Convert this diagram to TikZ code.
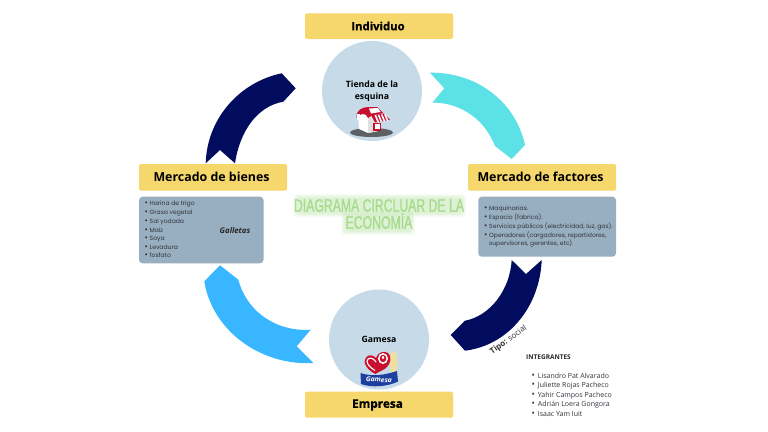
\documentclass[tikz,border=0pt]{standalone}
\usepackage{fontspec}
\setmainfont{Open Sans}
\newfontfamily\heavyf[FakeBold=0.6]{Open Sans Bold}
\newfontfamily\popf{Poppins}
\newfontfamily\titlef[FakeStretch=0.68,FakeBold=0.9]{Liberation Sans}
\definecolor{navyarrow}{HTML}{020C5E}
\definecolor{cyanarrow}{HTML}{5CE1E6}
\definecolor{bluearrow}{HTML}{38B6FF}
\definecolor{yellowbox}{HTML}{F5D76C}
\definecolor{greybox}{HTML}{98AFC1}
\definecolor{circlefill}{HTML}{C6DAE8}
\definecolor{glow}{HTML}{9ADC7A}
\definecolor{titlegreen}{HTML}{A9DB8E}
\definecolor{listtext}{HTML}{2F343C}
\definecolor{storered}{HTML}{C8102E}
\definecolor{wheat}{HTML}{EFDF9C}
\definecolor{logoblue}{HTML}{1C3FA0}
\tikzset{
  x=1pt,y=-1pt,
  head/.style={font=\bfseries\fontsize{12.4}{12.4}\selectfont,text=black,inner sep=0},
  small head/.style={font=\bfseries\fontsize{8.7}{12}\selectfont,text=black,inner sep=0,align=center},
  listitem/.style={anchor=base west,font=\popf\fontsize{6.05}{6}\selectfont,text=listtext,inner sep=0},
  nameitem/.style={anchor=base west,font=\fontsize{7}{7}\selectfont,text=listtext,inner sep=0},
  yellow box/.style={fill=yellowbox,rounded corners=2pt},
  grey box/.style={fill=greybox,rounded corners=3.5pt},
  disc/.style={fill=circlefill},
}
\newcommand{\bl}{\makebox[5pt][l]{\fontsize{8}{6}\selectfont •}}
\newcommand{\nb}{\makebox[6.2pt][l]{\fontsize{9}{7}\selectfont •}}
\begin{document}
\begin{tikzpicture}
\useasboundingbox (0,0) rectangle (768,431);
\fill[white] (0,0) rectangle (768,431);
% arrows
\fill[navyarrow] (281.7,73.3) .. controls (240,82) and (207,118) .. (205.7,163.3) -- (220,150) -- (235,163.3) .. controls (240,130) and (258,106) .. (283.3,101.7) -- (295.7,88.3) -- cycle;
\fill[cyanarrow] (430,72.7) -- (444.3,88.3) -- (432.3,102.7) .. controls (455,102) and (483,115) .. (495,146) -- (511.7,159) -- (525,145) .. controls (515,100) and (475,72) .. (430,72.7) -- cycle;
\fill[bluearrow] (220,265.3) -- (238.3,279.7) .. controls (248,315) and (280,332) .. (310.7,329.7) -- (296.7,346.3) -- (313.3,363) .. controls (260,366) and (212,330) .. (204.3,281.3) -- cycle;
\fill[navyarrow] (511.7,260) -- (526,274) -- (541.7,260) .. controls (540,305) and (510,345) .. (465,350.7) -- (450.7,335) -- (465,320.7) .. controls (490,316) and (510,290) .. (511.7,260) -- cycle;
% circles
\fill[disc] (372,91) circle (50);
\fill[disc] (379,339.5) circle (50);
% boxes
\fill[yellow box] (305,13.3) rectangle (453,39);
\fill[yellow box] (305,391.7) rectangle (453,417.7);
\fill[yellow box] (139,164) rectangle (287,190.7);
\fill[yellow box] (468,164) rectangle (616,190.7);
\fill[grey box] (139,196.7) rectangle (263.5,263.3);
\fill[grey box] (478.3,196.7) rectangle (616,256.7);
\node[head,font=\heavyf\fontsize{11.3}{11}\selectfont] (individuo) at (378,26) {Individuo};
\node[head,font=\heavyf\fontsize{11.8}{12}\selectfont] (empresa) at (377.5,405) {Empresa};
\node[head] (bienes) at (211.5,176.5) {Mercado de bienes};
\node[head] (factores) at (540.5,176.5) {Mercado de factores};
\node[small head] (tienda) at (372,91.5) {Tienda de la\\esquina};
\node[small head] (gamesa) at (379,339.5) {Gamesa};
% title glow
\foreach \g in {5,4,3,2,1}{
  \fill[glow,opacity=0.07,rounded corners=4pt] (298-\g,199-\g) rectangle (461+\g,212+\g);
  \fill[glow,opacity=0.07,rounded corners=4pt] (346-\g,217-\g) rectangle (410+\g,230+\g);
}
\node[inner sep=0,align=center,text=titlegreen,font=\titlef\fontsize{18}{17}\selectfont] (title) at (379,214) {DIAGRAMA CIRCLUAR DE LA\\ECONOMÍA};
% left list
\node[listitem] (l1) at (144.5,205.7) {\bl Harina de trigo};
\node[listitem] (l2) at (144.5,214.6) {\bl Grasa vegetal};
\node[listitem] (l3) at (144.5,223) {\bl Sal yodada};
\node[listitem] (l4) at (144.5,232) {\bl Maíz};
\node[listitem] (l5) at (144.5,240) {\bl Soya};
\node[listitem] (l6) at (144.5,249) {\bl Levadura};
\node[listitem] (l7) at (144.5,257) {\bl fosfato};
\node[font=\bfseries\itshape\fontsize{7.8}{7.8}\selectfont,text=black!85,inner sep=0] (galletas) at (235,231) {Galletas};
% right list
\node[listitem] (r1) at (484,210.7) {\bl Maquinarias.};
\node[listitem] (r2) at (484,219.7) {\bl Espacio (fabrica).};
\node[listitem] (r3) at (484,228) {\bl Servicios públicos (electricidad, luz, gas).};
\node[listitem] (r4) at (484,237) {\bl Operadores (cargadores, repartidores,};
\node[listitem] (r5) at (489,245.5) {supervisores, gerentes, etc).};
% tipo
\node[rotate=36,inner sep=0,text=black!80,font=\fontsize{8}{8}\selectfont] (tipo) at (508.5,340) {\textbf{Tipo:} social};
% integrantes
\node[inner sep=0,anchor=base west,text=black!85,font=\bfseries\fontsize{6.5}{6.5}\selectfont] (integrantes) at (526,359) {INTEGRANTES};
\node[nameitem] (n1) at (531.5,378.5) {\nb Lisandro Pat Alvarado};
\node[nameitem] (n2) at (531.5,387.8) {\nb Juliette Rojas Pacheco};
\node[nameitem] (n3) at (531.5,397.5) {\nb Yahir Campos Pacheco};
\node[nameitem] (n4) at (531.5,406.5) {\nb Adrián Loera Gongora};
\node[nameitem] (n5) at (531.5,416.5) {\nb Isaac Yam Iuit};
% store icon
\fill[black!70,opacity=.85] (371.5,132.5) ellipse (21.5 and 4.5);
\fill[white] (358,115) -- (378,115) -- (378,131) -- (368,133) -- (359,129) -- cycle;
\fill[black!12] (368,117) -- (368,133) -- (378,131) -- (378,115) -- cycle;
\fill[storered] (356.5,118) .. controls (356,110) and (362,107) .. (369,107) -- (377,107) -- (383,113) -- (372,115.5) -- (368,118) .. controls (366,113) and (362,113) .. (360,115) -- cycle;
\fill[white] (369,108.5) -- (378,108) -- (380.5,112) -- (371,113.5) -- cycle;
\fill[white] (357,113.5) rectangle (360,120);
\fill[storered] (371,115) -- (384,113.5) -- (390,120) -- (375,122.5) -- cycle;
\foreach \s in {0,1,2,3}{\fill[white] (374.5+3.2*\s,115-.2*\s) -- (376+3.2*\s,114.8-.2*\s) -- (379+3.2*\s,121.8-.3*\s) -- (377.3+3.2*\s,122.1-.3*\s) -- cycle;}
\fill[storered] (373,122.5) rectangle (381,130.5);
\fill[white] (374.5,124) rectangle (379.5,129);
% gamesa logo
\fill[wheat] (393.5,362.5) ellipse (4 and 11.5);
\fill[storered] (375.5,374) .. controls (367,370) and (362,362) .. (366,357.5) .. controls (369,354) and (373,355) .. (376,358) .. controls (378,352) and (384,350.5) .. (388,353) .. controls (392,356) and (391,364) .. (386,368) .. controls (382,371) and (378,372) .. (375.5,374) -- cycle;
\draw[white,line width=1.1pt] (375,370.5) .. controls (369,367) and (365,362) .. (368,359) .. controls (371,357) and (374,359) .. (376,362);
\fill[white] (383,358.5) ellipse (5 and 5.5);
\fill[storered] (383,358.5) ellipse (3.3 and 3.8);
\fill[white] (383,357.5) ellipse (1.4 and 1.8);
\fill[logoblue] (360.5,373) .. controls (372,377) and (385,375) .. (397,371) -- (398,381.5) .. controls (388,386.5) and (372,388) .. (361,384) -- cycle;
\node[rotate=-4,inner sep=0,text=white,font=\bfseries\itshape\fontsize{6.8}{6.8}\selectfont] (logo) at (379,379.6) {Gamesa};
\end{tikzpicture}
\end{document}
